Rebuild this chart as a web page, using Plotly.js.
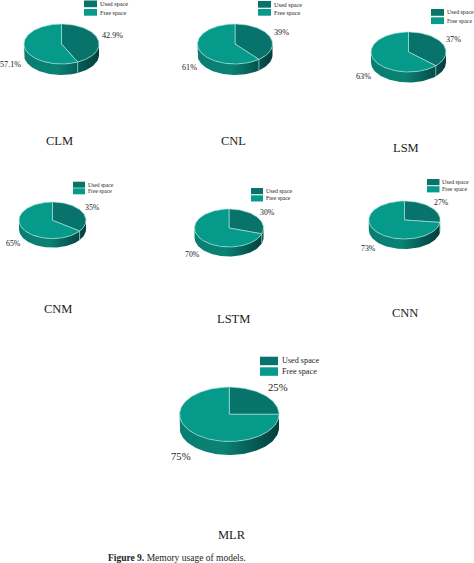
<!DOCTYPE html>
<html>
<head>
<meta charset="utf-8">
<script src="https://cdn.plot.ly/plotly-3.0.1.min.js"></script>
<style>html,body{margin:0;padding:0;background:#fff}#chart{width:474px;height:563px}</style>
</head>
<body>
<div id="chart"></div>
<script>
// Values
const models = ['CLM', 'CNL', 'LSM', 'CNM', 'LSTM', 'CNN', 'MLR'];
const usedSpace = [42.9, 39, 37, 35, 30, 27, 25];
const freeSpace = [57.1, 61, 63, 65, 70, 73, 75];
const seriesNames = ['Used space', 'Free space'];
const captionBold = 'Figure 9.';
const captionText = ' Memory usage of models.';

// Placement of each small chart on the page (pixels)
const pieCx = [61.5, 235, 408.5, 52.5, 229, 404.5, 229.3];
const pieCy = [44, 44, 52, 220.3, 228, 220, 414.3];
const pieRx = [37.5, 37.5, 37.5, 33.5, 34.5, 35.7, 49.7];
const pieRy = [20, 20, 20, 18.3, 19, 19, 27.2];
const pieDepth = [11, 11, 10.5, 9, 9.5, 10, 13.5];
const legendX = [84, 258, 431, 73, 251, 427, 260];
const legendW = [13, 13, 13, 12, 12, 12.5, 18];
const legendY1 = [0.5, 1, 9, 181.7, 188, 179, 356.7];
const legendY2 = [9, 9, 17.3, 188.3, 195.3, 186.2, 367.3];
const legendH = [6.7, 6.7, 6.8, 6, 6.2, 6.2, 8.5];
const legendFont = [6.2, 6.2, 5.9, 5.6, 5.75, 5.9, 8.2];
const usedLabelPos = [[112, 35], [281, 32], [453, 39], [92, 207], [267, 212], [441, 202], [278, 387]];
const freeLabelPos = [[10, 64], [189, 67], [363, 76], [13, 243], [192, 254], [368, 248], [181, 455.7]];
const labelFont = [8.2, 8.2, 8.2, 7.8, 7.8, 7.8, 10.7];
const titlePos = [[59, 141], [233, 141], [406, 148], [58, 309], [233, 319], [405, 313], [232, 535]];

const USED = '#07736a', FREE = '#059a8a', EDGE = '#a6e0d6', INK = '#1c1c1c';
const SERIF = '"Liberation Serif", serif';
const wallScale = [[0, '#0a7d72'], [0.45, '#0a8274'], [0.75, '#065a55'], [1, '#033f3d']];

const traces = [], shapes = [], annotations = [];
const rad = d => d * Math.PI / 180;

function arc(i, from, to, dy) {
  const xs = [], ys = [];
  const n = Math.max(2, Math.ceil(Math.abs(to - from) / 2));
  for (let k = 0; k <= n; k++) {
    const t = rad(from + (to - from) * k / n);
    xs.push(pieCx[i] + pieRx[i] * Math.sin(t));
    ys.push(pieCy[i] - pieRy[i] * Math.cos(t) + dy);
  }
  return [xs, ys];
}

function wall(i, from, to, color) {
  if (to <= from) return;
  const [x1, y1] = arc(i, from, to, 0);
  const [x2, y2] = arc(i, to, from, pieDepth[i]);
  traces.push({
    x: x1.concat(x2), y: y1.concat(y2), mode: 'lines', fill: 'toself',
    line: {width: 0, color: color}, hoverinfo: 'skip', showlegend: false,
    fillgradient: {
      type: 'horizontal', colorscale: wallScale,
      start: pieCx[i] - pieRx[i], stop: pieCx[i] + pieRx[i]
    }
  });
}

function slice(i, from, to, color, name) {
  const [xs, ys] = arc(i, from, to, 0);
  traces.push({
    x: [pieCx[i]].concat(xs, [pieCx[i]]),
    y: [pieCy[i]].concat(ys, [pieCy[i]]),
    mode: 'lines', fill: 'toself', fillcolor: color,
    line: {color: EDGE, width: 0.7}, name: name,
    hoverinfo: 'name', showlegend: false
  });
}

function text(x, y, str, size, anchor) {
  annotations.push({
    x: x, y: y, xref: 'x', yref: 'y', text: str, showarrow: false,
    xanchor: anchor || 'center', yanchor: 'middle',
    font: {family: SERIF, size: size, color: INK}
  });
}

models.forEach((m, i) => {
  const total = usedSpace[i] + freeSpace[i];
  const split = 360 * usedSpace[i] / total;
  wall(i, 90, split, USED);
  wall(i, Math.max(split, 90), 270, FREE);
  slice(i, 0, split, USED, seriesNames[0]);
  slice(i, split, 360, FREE, seriesNames[1]);
  // seam on the wall where the two slices meet
  if (split > 90 && split < 270) {
    const t = rad(split);
    const sx = pieCx[i] + pieRx[i] * Math.sin(t);
    const sy = pieCy[i] - pieRy[i] * Math.cos(t);
    traces.push({
      x: [sx, sx], y: [sy, sy + pieDepth[i]], mode: 'lines',
      line: {color: EDGE, width: 0.6}, hoverinfo: 'skip', showlegend: false
    });
  }
  // legend
  [[legendY1[i], USED], [legendY2[i], FREE]].forEach((row, r) => {
    shapes.push({
      type: 'rect', xref: 'x', yref: 'y', x0: legendX[i], x1: legendX[i] + legendW[i],
      y0: row[0], y1: row[0] + legendH[i],
      fillcolor: row[1], line: {width: 0}
    });
    text(legendX[i] + legendW[i] + (i === 6 ? 1.5 : 0.5), row[0] + legendH[i] / 2,
         seriesNames[r], legendFont[i], 'left');
  });
  text(usedLabelPos[i][0], usedLabelPos[i][1], usedSpace[i] + '%', labelFont[i]);
  text(freeLabelPos[i][0], freeLabelPos[i][1], freeSpace[i] + '%', labelFont[i]);
  text(titlePos[i][0], titlePos[i][1], m, 12.5);
});

text(106, 558, '<b>' + captionBold + '</b>' + captionText, 9.5, 'left');

Plotly.newPlot('chart', traces, {
  width: 474, height: 563,
  margin: {l: 0, r: 0, t: 0, b: 0},
  paper_bgcolor: '#fff', plot_bgcolor: '#fff',
  xaxis: {range: [0, 474], visible: false, fixedrange: true},
  yaxis: {range: [563, 0], visible: false, fixedrange: true},
  showlegend: false, shapes: shapes, annotations: annotations
}, {displayModeBar: false, staticPlot: true});
</script>
</body>
</html>
